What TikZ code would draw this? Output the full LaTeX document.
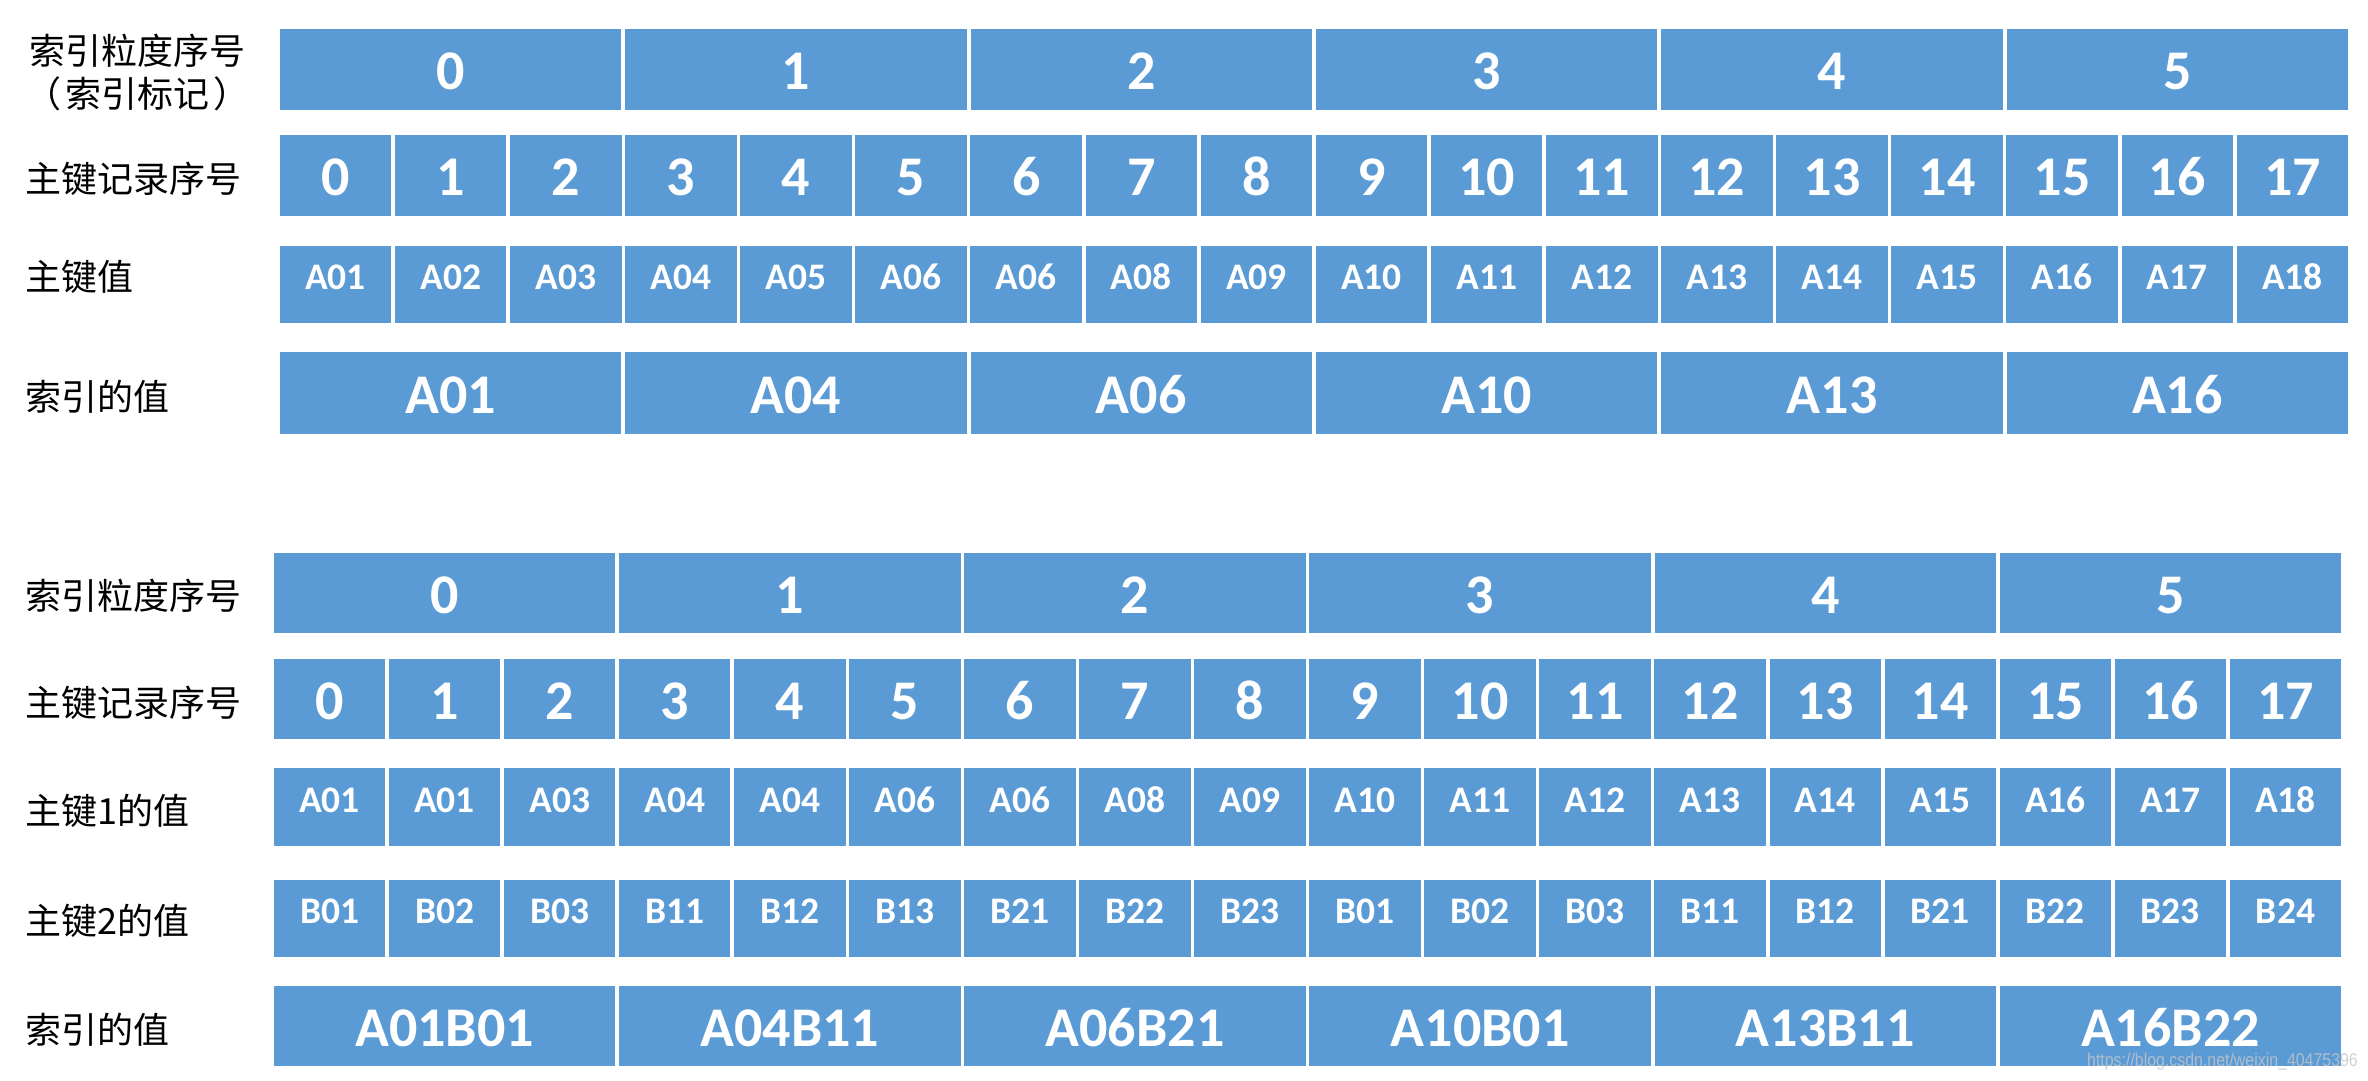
\documentclass[tikz,border=0pt]{standalone}
\usepackage{fontspec}
\setmainfont{Carlito}
\newfontfamily\cjk{Noto Sans CJK SC}
\newfontfamily\wmfont{Liberation Sans}
\definecolor{cellblue}{HTML}{5B9BD5}
\begin{document}
\begin{tikzpicture}[x=1pt,y=-1pt,
  cellbox/.style={fill=cellblue, text=white, inner sep=0pt},
  bignum/.style={cellbox, font=\fontsize{56}{56}\selectfont\bfseries, text height=40pt, text depth=0pt},
  smallval/.style={cellbox, font=\fontsize{37.5}{37.5}\selectfont\bfseries, text height=10pt, text depth=0pt},
  coarse/.style={minimum width=341.5pt},
  fine/.style={minimum width=111.5pt},
  rowlabel/.style={anchor=west, inner sep=0pt, font=\cjk\fontsize{36}{43}\selectfont, text=black, align=center},
  watermark/.style={anchor=base east, inner sep=0pt, font=\wmfont\fontsize{18.5}{18.5}\selectfont, text=gray!45, text opacity=0.8},
]
\useasboundingbox (0,0) rectangle (2368,1080);

% ---------- top section ----------
\node[rowlabel] (lt1) at (25,73) {索引粒度序号\\（\hspace{4pt}索引标记\hspace{4pt}）};
\node[rowlabel] (lt2) at (25,179) {主键记录序号};
\node[rowlabel] (lt3) at (25,277) {主键值};
\node[rowlabel] (lt4) at (25,397) {索引的值};

\foreach \i in {0,...,5}
  \node[bignum, coarse, minimum height=81pt] (tg\i) at ({278+(\i+0.5)*345.333},69.5) {\i};
\foreach \i in {0,...,17}
  \node[bignum, fine, minimum height=81pt] (tr\i) at ({278+(\i+0.5)*115.111},175.5) {\i};
\foreach \t [count=\i from 0] in {A01,A02,A03,A04,A05,A06,A06,A08,A09,A10,A11,A12,A13,A14,A15,A16,A17,A18}
  \node[smallval, fine, minimum height=77pt] (tk\i) at ({278+(\i+0.5)*115.111},284.5) {\t};
\foreach \t [count=\i from 0] in {A01,A04,A06,A10,A13,A16}
  \node[bignum, coarse, minimum height=82pt] (tv\i) at ({278+(\i+0.5)*345.333},393) {\t};

% ---------- bottom section ----------
\node[rowlabel] (lb1) at (25,596) {索引粒度序号};
\node[rowlabel] (lb2) at (25,703) {主键记录序号};
\node[rowlabel] (lb3) at (25,811) {主键1的值};
\node[rowlabel] (lb4) at (25,921) {主键2的值};
\node[rowlabel] (lb5) at (25,1030) {索引的值};

\foreach \i in {0,...,5}
  \node[bignum, coarse, minimum height=80pt] (bg\i) at ({272+(\i+0.5)*345.167},593) {\i};
\foreach \i in {0,...,17}
  \node[bignum, fine, minimum height=80pt] (br\i) at ({272+(\i+0.5)*115.056},699) {\i};
\foreach \t [count=\i from 0] in {A01,A01,A03,A04,A04,A06,A06,A08,A09,A10,A11,A12,A13,A14,A15,A16,A17,A18}
  \node[smallval, fine, minimum height=78pt] (bka\i) at ({272+(\i+0.5)*115.056},807) {\t};
\foreach \t [count=\i from 0] in {B01,B02,B03,B11,B12,B13,B21,B22,B23,B01,B02,B03,B11,B12,B21,B22,B23,B24}
  \node[smallval, fine, minimum height=77pt] (bkb\i) at ({272+(\i+0.5)*115.056},918.5) {\t};
\foreach \t [count=\i from 0] in {A01B01,A04B11,A06B21,A10B01,A13B11,A16B22}
  \node[bignum, coarse, minimum height=80pt] (bv\i) at ({272+(\i+0.5)*345.167},1026) {\t};

% ---------- watermark ----------
\node[watermark] (wm) at (2358,1066) {\scalebox{0.86}[1]{https://blog.csdn.net/weixin\_40475396}};
\end{tikzpicture}
\end{document}
